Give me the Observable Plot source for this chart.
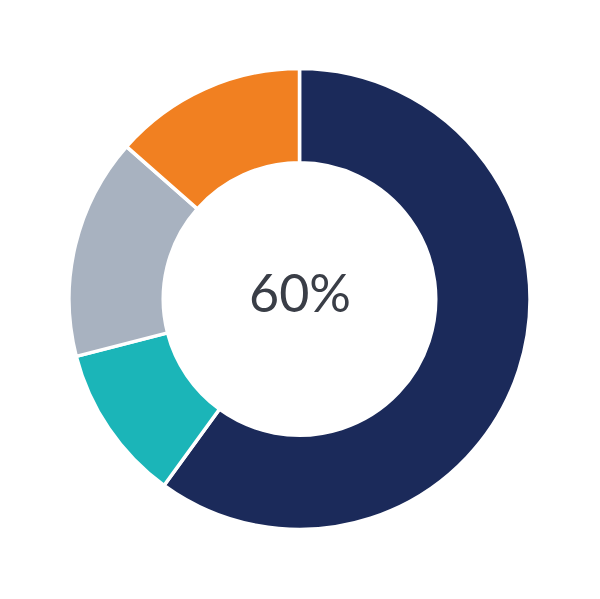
<!DOCTYPE html>
<html>
<head>
<meta charset="utf-8">
<script src="https://cdn.jsdelivr.net/npm/d3@7"></script>
<script src="https://cdn.jsdelivr.net/npm/@observablehq/plot@0.6"></script>
<style>
  html, body { margin: 0; padding: 0; background: #ffffff; }
  #chart { width: 600px; height: 599px; }
</style>
</head>
<body>
<div id="chart"></div>
<script>
const categories = ["A", "B", "C", "D"];
const values = [60, 11, 15.5, 13.5];
const colors = ["#1b2a5a", "#1bb5b8", "#a8b2c0", "#f18021"];
const centerLabel = "60%";

const data = categories.map((c, i) => ({category: c, value: values[i]}));
const pie = d3.pie().sort(null).value(d => d.value)(data);

function donutMark(index, scales, vals, dimensions) {
  const x = scales.x, y = scales.y;
  const cx = x(0), cy = y(0);
  const rOuter = Math.abs(x(1) - cx);
  const rInner = Math.abs(x(0.591) - cx);
  const arc = d3.arc().innerRadius(rInner).outerRadius(rOuter);
  const g = d3.create("svg:g").attr("transform", `translate(${cx},${cy})`);
  g.selectAll("path")
    .data(pie)
    .join("path")
    .attr("d", arc)
    .attr("fill", d => colors[categories.indexOf(d.data.category)])
    .attr("stroke", "#ffffff")
    .attr("stroke-width", 3.5)
    .attr("stroke-linejoin", "round");
  return g.node();
}

const chart = Plot.plot({
  width: 600,
  height: 599,
  margin: 0,
  style: {background: "#ffffff", overflow: "visible"},
  x: {domain: [-1, 1], range: [69, 530], axis: null},
  y: {domain: [-1, 1], range: [529.5, 68.5], axis: null},
  marks: [
    donutMark,
    Plot.text([centerLabel], {
      x: () => 0,
      y: () => 0,
      text: d => d,
      dy: -4,
      fontSize: 52,
      fontFamily: "Lato",
      fontWeight: 400,
      fill: "#3a3e47",
      textAnchor: "middle",
      lineAnchor: "middle"
    })
  ]
});
document.getElementById("chart").appendChild(chart);
</script>
</body>
</html>
